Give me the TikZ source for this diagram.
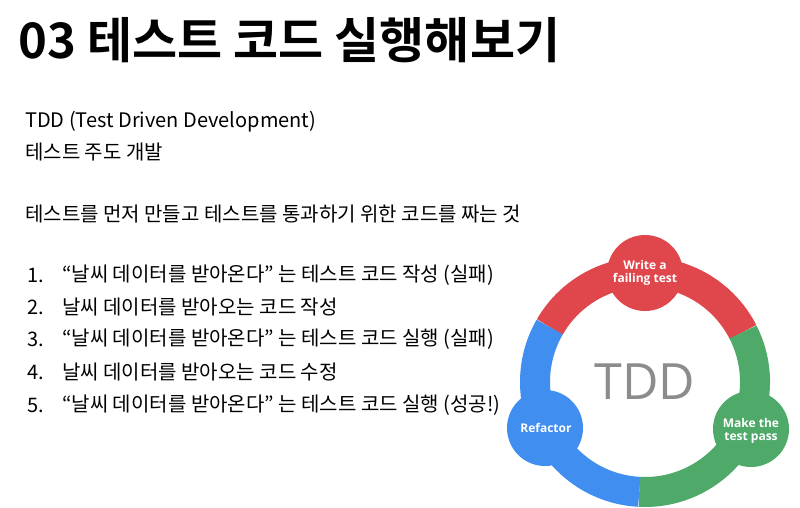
\documentclass[tikz,border=0pt]{standalone}
\usepackage{fontspec}
\setmainfont{Noto Sans CJK KR}
\newfontfamily\cjkb{Noto Sans CJK KR Bold}
\setsansfont{Open Sans}
\begin{document}
\begin{tikzpicture}[x=1pt,y=-1pt]
\definecolor{tred}{HTML}{E0474C}
\definecolor{tgreen}{HTML}{4FAA6A}
\definecolor{tblue}{HTML}{3F8EF0}
\tikzset{txt/.style={anchor=west,inner sep=0,font=\fontsize{20}{22}\selectfont},
 num/.style={anchor=west,inner sep=0,font=\fontsize{20}{22}\selectfont},
 seg/.style={line width=30pt},
 lbl/.style={text=white,font=\sffamily\bfseries\fontsize{12}{13}\selectfont,align=center}}
\useasboundingbox (0,0) rectangle (800,508);
\fill[white] (0,0) rectangle (800,508);
\node[anchor=west,inner sep=0,font=\cjkb\fontsize{49}{52}\selectfont] (title) at (18,40) {03 테스트 코드 실행해보기};
\node[txt] (l1) at (25,122) {TDD (Test Driven Development)};
\node[txt] (l2) at (25,152) {테스트 주도 개발};
\node[txt] (l3) at (25,214) {테스트를 먼저 만들고 테스트를 통과하기 위한 코드를 짜는 것};
\foreach \n/\y/\t in {1/275/{“날씨 데이터를 받아온다” 는 테스트 코드 작성 (실패)},
  2/307/{날씨 데이터를 받아오는 코드 작성},
  3/339/{“날씨 데이터를 받아온다” 는 테스트 코드 실행 (실패)},
  4/372/{날씨 데이터를 받아오는 코드 수정},
  5/405/{“날씨 데이터를 받아온다” 는 테스트 코드 실행 (성공!)}}{
  \node[num] (n\n) at (27,\y) {\n.};
  \node[txt] (t\n) at (62,\y) {\t};}
\coordinate (c) at (645,382);
\begin{scope}
\clip (0,0) rectangle (800,508);
\draw[seg,tred] (c) ++(-150:110) arc[start angle=-150,end angle=-27,radius=110];
\draw[seg,tgreen] (c) ++(-27:110) arc[start angle=-27,end angle=93,radius=110];
\draw[seg,tblue] (c) ++(93:110) arc[start angle=93,end angle=210,radius=110];
\fill[tred] (645,273) circle (38);
\fill[tgreen] (751,429) circle (38);
\fill[tblue] (545,428) circle (38);
\end{scope}
\node[lbl] (w) at (645,273) {Write a\\failing test};
\node[lbl] (m) at (751,431) {Make the\\test pass};
\node[lbl] (r) at (546,428) {Refactor};
\node[text=gray!90,font=\sffamily\fontsize{50}{50}\selectfont] (tdd) at (c) {TDD};
\end{tikzpicture}
\end{document}
